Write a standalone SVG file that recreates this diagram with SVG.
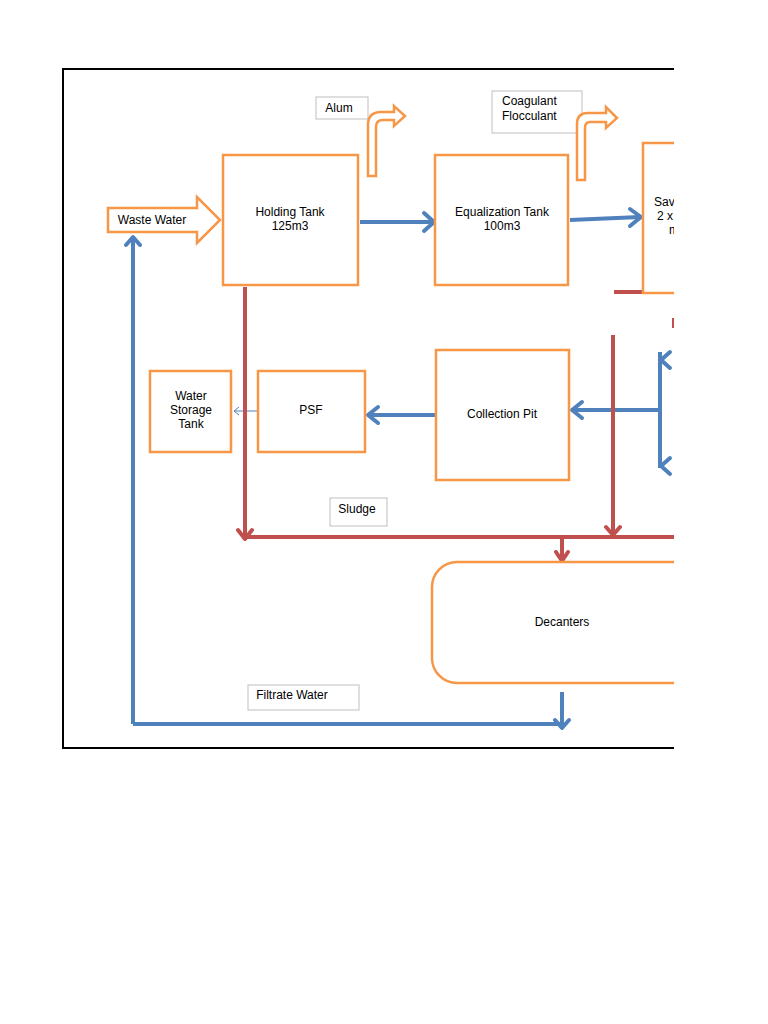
<svg xmlns="http://www.w3.org/2000/svg" width="768" height="1024" viewBox="0 0 768 1024">
<style>
.n{fill:#fff;stroke:#f79646;stroke-width:2.5}
.lb{fill:#fff;stroke:#bfbfbf;stroke-width:1}
.t{font-family:"Liberation Sans",Arial,sans-serif;font-size:12px;fill:#000;text-anchor:middle}
.b{stroke:#4f81bd;stroke-width:4;fill:none}
.r{stroke:#c0504d;stroke-width:4;fill:none}
.ch{stroke-linecap:round;stroke-linejoin:round}
</style>
<defs><clipPath id="c"><rect x="0" y="0" width="674" height="1024"/></clipPath></defs>
<rect width="768" height="1024" fill="#fff"/>
<g clip-path="url(#c)">
<rect x="63" y="69" width="700" height="679" fill="none" stroke="#000" stroke-width="2"/>
<g id="connectors">
<path class="b" d="M360 222H433"/><path class="b ch" d="M424 213L434 222L424 231"/>
<path class="b" d="M570 220L640 217"/><path class="b ch" d="M630 209L641 217L630 226"/>
<path class="b" d="M660 410H573"/><path class="b ch" d="M582 402L572 410L582 418"/>
<path class="b" d="M660 352V468"/><path class="b ch" d="M670 352L661 360L670 368M670 458L661 466L670 474"/>
<path class="b" d="M436 415H369"/><path class="b ch" d="M378 407L368 415L378 423"/>
<path stroke="#4f81bd" stroke-width="1" fill="none" d="M258 411H234M239 407L234 411L239 415"/>
<path class="r" d="M245 287V539M613 335V535M245 537H680M562 537V560M614 292H680"/>
<path class="r ch" d="M238 530L245 539L252 530M606 527L613 535L620 527M556 552L562 561L568 552"/>
<path class="r" d="M674 318V328" stroke-width="2"/>
<path class="b" d="M562 692V728M133 724H562M133 724V238"/>
<path class="b ch" d="M555 720L562 728L569 720M126 245L133 237L140 245"/>
</g>
<g id="wastewater"><path class="n" d="M108 208H197V197L220 220L197 243V232H108Z"/><text class="t" x="152" y="224">Waste Water</text></g>
<g id="alum"><rect class="lb" x="316" y="97" width="52" height="22"/><text class="t" x="339" y="112">Alum</text>
<path class="n" d="M368 176V125Q368 112 381 112H394V106L405 116L394 126V120H383Q376 120 376 127V176Z"/></g>
<g id="holding"><rect class="n" x="223" y="155" width="135" height="130"/><text class="t" x="290" y="216">Holding Tank</text><text class="t" x="290" y="230">125m3</text></g>
<g id="coag"><rect class="lb" x="492" y="91" width="90" height="42"/><text class="t" x="502" y="105" style="text-anchor:start">Coagulant</text><text class="t" x="502" y="120" style="text-anchor:start">Flocculant</text>
<path class="n" d="M577 180V124Q577 113 588 113H606V107L617 118L606 128V122H590Q585 122 585 128V180Z"/></g>
<g id="equal"><rect class="n" x="435" y="155" width="133" height="130"/><text class="t" x="502" y="216">Equalization Tank</text><text class="t" x="502" y="230">100m3</text></g>
<g id="saver"><rect class="n" x="643" y="143" width="120" height="150"/><text class="t" x="654" y="206" style="text-anchor:start">Saver</text><text class="t" x="657" y="220" style="text-anchor:start">2 x</text><text class="t" x="669" y="234" style="text-anchor:start">m</text></g>
<g id="collection"><rect class="n" x="436" y="350" width="133" height="130"/><text class="t" x="502" y="418">Collection Pit</text></g>
<g id="psf"><rect class="n" x="258" y="371" width="107" height="81"/><text class="t" x="311" y="414">PSF</text></g>
<g id="storage"><rect class="n" x="150" y="371" width="81" height="81"/><text class="t" x="191" y="400">Water</text><text class="t" x="191" y="414">Storage</text><text class="t" x="191" y="428">Tank</text></g>
<g id="sludge"><rect class="lb" x="330" y="498" width="57" height="28"/><text class="t" x="357" y="513">Sludge</text></g>
<g id="decanters"><rect class="n" x="432" y="562" width="330" height="121" rx="25"/><text class="t" x="562" y="626">Decanters</text></g>
<g id="filtrate"><rect class="lb" x="248" y="685" width="111" height="25"/><text class="t" x="292" y="699">Filtrate Water</text></g>
</g>
</svg>
